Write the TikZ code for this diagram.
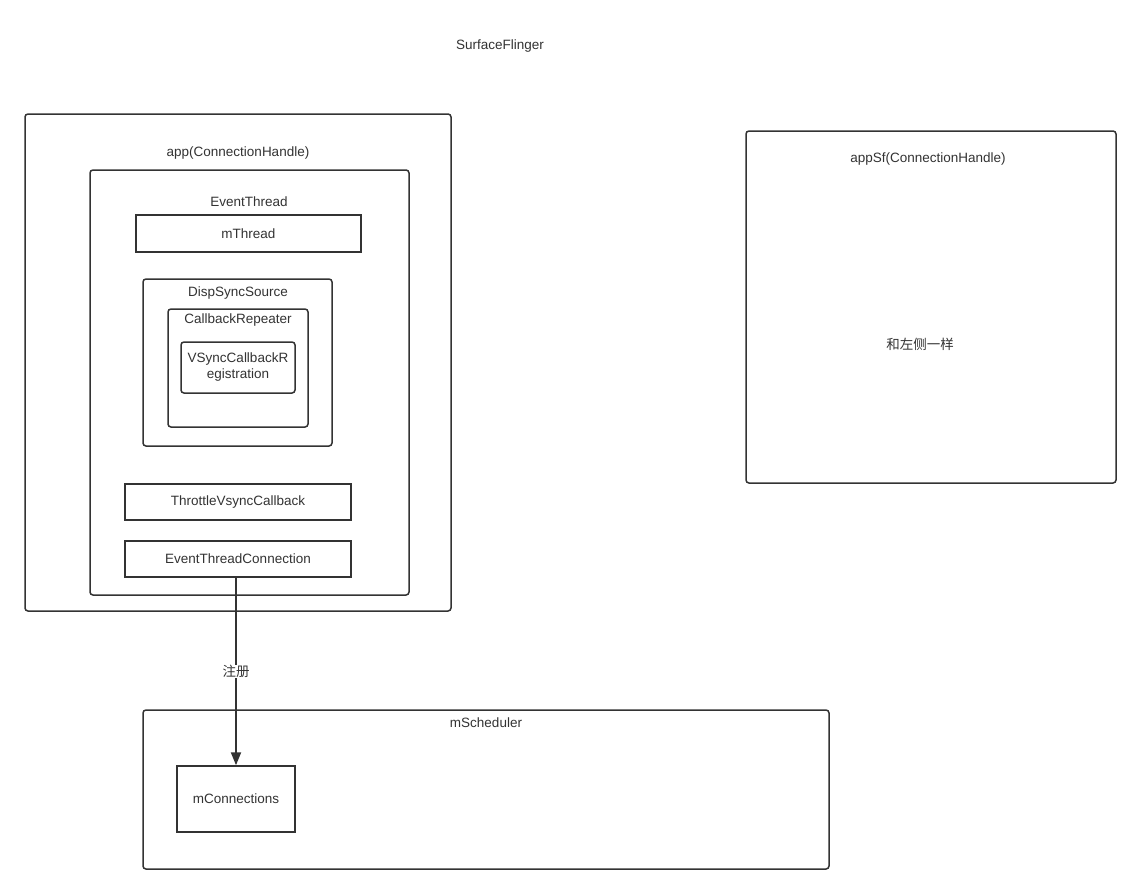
\documentclass[tikz,border=0pt]{standalone}
\usepackage{fontspec}
\setmainfont{Liberation Sans}
\newfontfamily\cjk{Noto Sans CJK SC}
\usetikzlibrary{arrows.meta}
\definecolor{ln}{HTML}{333333}
\begin{document}
\begin{tikzpicture}[x=1pt,y=-1pt,
  box/.style={draw=ln,line width=1.5pt,rounded corners=3pt},
  sqbox/.style={draw=ln,line width=1.5pt},
  lbl/.style={font=\fontsize{13.5}{16}\selectfont,text=ln,inner sep=0pt},
]
\useasboundingbox[fill=white] (0,0) rectangle (1141,894);
% containers
\draw[box] (25,114) rectangle (451,611);
\draw[box] (90,170) rectangle (409,595);
\draw[box] (143,279) rectangle (332,446);
\draw[box] (168,309) rectangle (308,427);
\draw[box] (746,131) rectangle (1116,483);
\draw[box] (143,710) rectangle (829,869);
% nodes
\node[sqbox,minimum width=225pt,minimum height=37pt,lbl] (mthread) at (248.5,233.5) {mThread};
\node[box,minimum width=114pt,minimum height=51pt,lbl,align=center] (vreg) at (238,367.5) {VSyncCallbackR\\[0pt]egistration};
\node[sqbox,minimum width=226pt,minimum height=36pt,lbl] (throttle) at (238,502) {ThrottleVsyncCallback};
\node[sqbox,minimum width=226pt,minimum height=36pt,lbl] (etc) at (238,559) {EventThreadConnection};
\node[sqbox,minimum width=118pt,minimum height=66pt,lbl] (mconn) at (236,799) {mConnections};
% labels
\node[lbl] (sf) at (500,46) {SurfaceFlinger};
\node[lbl] (app) at (238,153) {app(ConnectionHandle)};
\node[lbl] (et) at (249,202) {EventThread};
\node[lbl] (dss) at (238,293) {DispSyncSource};
\node[lbl] (cbr) at (238,320) {CallbackRepeater};
\node[lbl] (appsf) at (928,159) {appSf(ConnectionHandle)};
\node[lbl,font=\cjk\fontsize{13.5}{16}\selectfont] (same) at (920,344) {和左侧一样};
\node[lbl] (msch) at (486,723) {mScheduler};
% connector
\draw[draw=ln,line width=2pt,-{Triangle[length=13pt,width=10pt]}] (etc.south -| mconn.north) -- node[fill=white,inner sep=2pt,lbl,font=\cjk\fontsize{13.5}{16}\selectfont,pos=0.5] {注册} (mconn.north);
\end{tikzpicture}
\end{document}
